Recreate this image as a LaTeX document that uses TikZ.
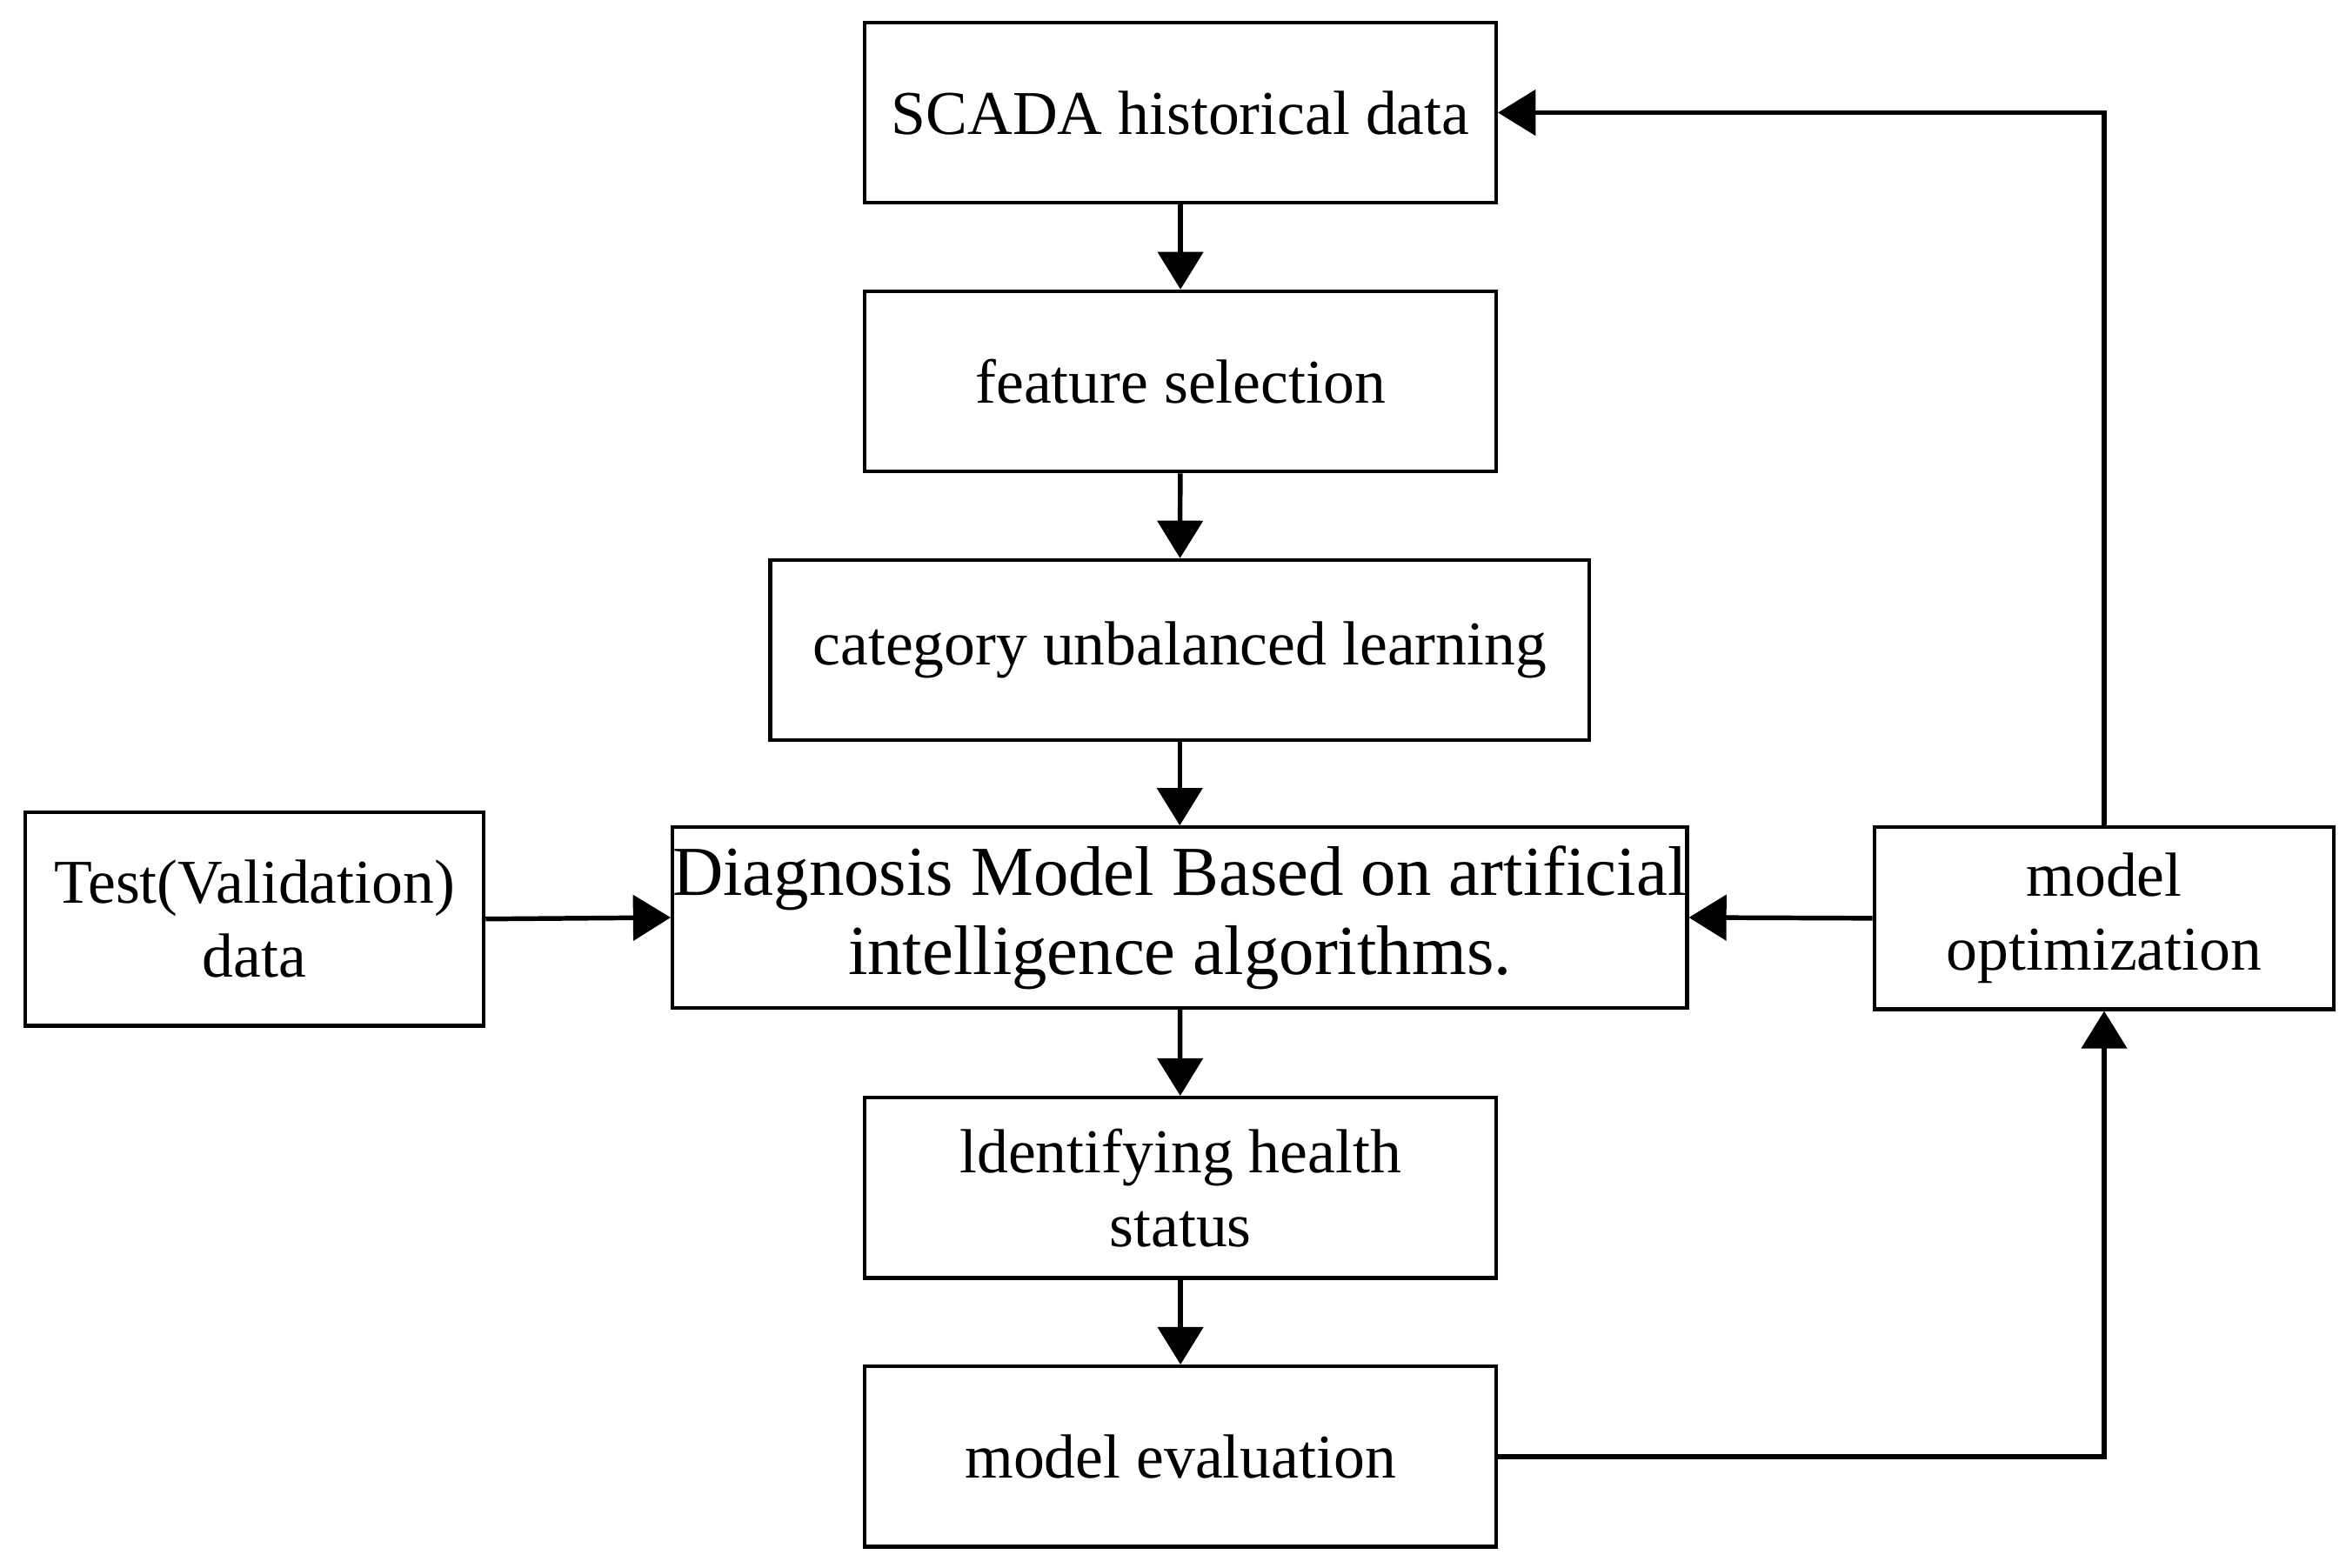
\documentclass[tikz,border=0pt]{standalone}
\usepackage{fontspec}
\setmainfont{Liberation Serif}
\usetikzlibrary{arrows.meta}
\begin{document}
\begin{tikzpicture}[x=0.01cm,y=-0.01cm,
  box/.style={draw,line width=0.7pt,minimum height=1.2cm,align=center,inner sep=0pt,font=\fontsize{11.8}{14}\selectfont},
  arr/.style={line width=0.9pt,-{Triangle[length=0.25cm,width=0.3cm]}}]
\useasboundingbox (0,0) rectangle (1562,1044);
\node[box,minimum width=4.2cm] (scada) at (786,75) {SCADA historical data};
\node[box,minimum width=4.2cm] (feat) at (786,254) {feature selection};
\node[box,minimum width=5.45cm] (cat) at (785.5,433) {category unbalanced learning};
\node[box,minimum width=6.61cm,font=\fontsize{13.3}{15}\selectfont] (diag) at (785.5,611) {Diagnosis Model Based on artificial\\intelligence algorithms.};
\node[box,minimum width=4.2cm] (ident) at (786,791) {ldentifying health\\status};
\node[box,minimum width=4.2cm] (eval) at (786,970) {model evaluation};
\node[box,minimum width=3.05cm,minimum height=1.42cm] (test) at (169.5,612) {Test(Validation)\\data};
\node[box,minimum width=3.06cm,minimum height=1.21cm] (opt) at (1401,611.5) {model\\optimization};
\draw[arr] (scada) -- (feat);
\draw[arr] (feat) -- (cat);
\draw[arr] (cat) -- (diag);
\draw[arr] (diag) -- (ident);
\draw[arr] (ident) -- (eval);
\draw[arr] (test.east) -- (diag.west);
\draw[arr] (opt.west) -- (diag.east);
\draw[arr] (eval.east) -| (opt.south);
\draw[arr] (opt.north) |- (scada.east);
\end{tikzpicture}
\end{document}
